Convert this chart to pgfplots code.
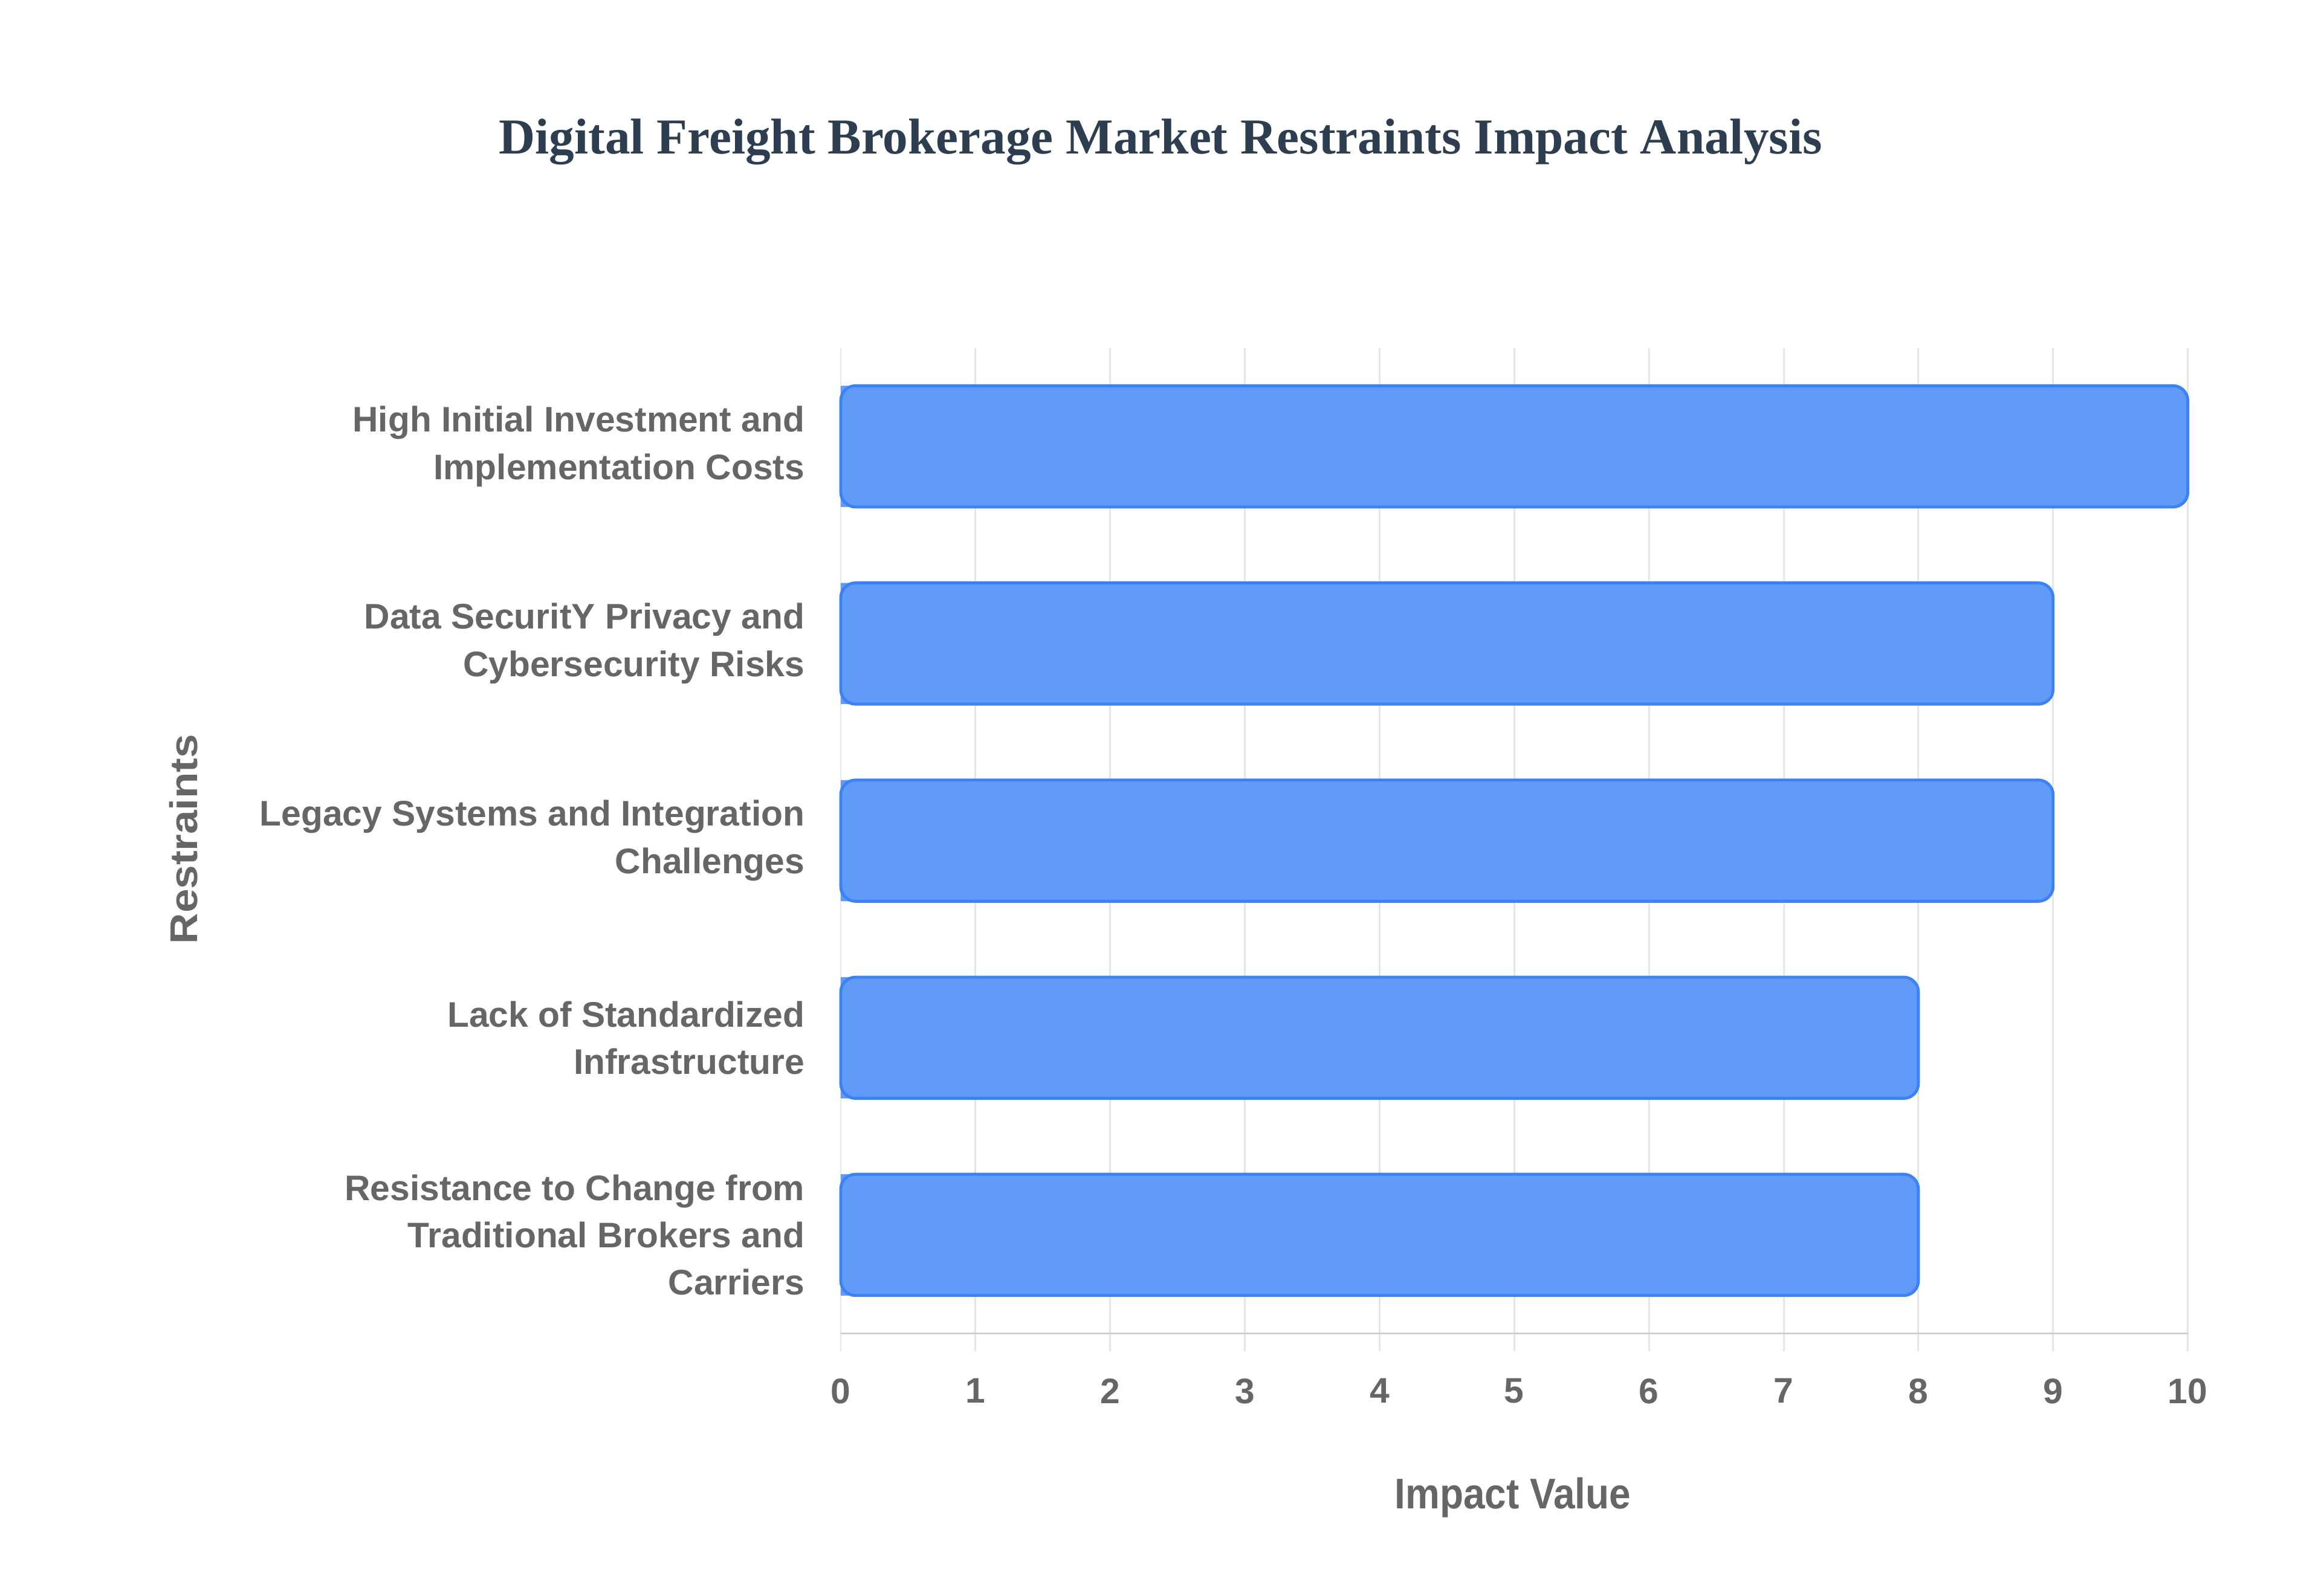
\documentclass[border=0pt]{standalone}
\usepackage{fontspec}
\setmainfont{Liberation Sans}
\newfontfamily\titlefont{Liberation Serif}
\usepackage{pgfplots}
\pgfplotsset{compat=1.18}
\definecolor{barfill}{RGB}{98,155,247}
\definecolor{barline}{RGB}{59,130,246}
\definecolor{lab}{RGB}{102,102,102}
\definecolor{titlec}{RGB}{44,62,80}
\definecolor{gridc}{RGB}{230,230,230}
\begin{document}
\begin{tikzpicture}
\useasboundingbox[fill=white] (0,0) rectangle (784pt,539pt);
\node[anchor=base, text=titlec, inner sep=0pt, font=\titlefont\bfseries\fontsize{17}{20}\selectfont] at (392pt,487pt) {Digital Freight Brokerage Market Restraints Impact Analysis};
\node[text=lab, inner sep=0pt, font=\bfseries\fontsize{14.5}{17}\selectfont] at (511pt,33pt) {\scalebox{0.9}[1]{Impact Value}};
\node[text=lab, inner sep=0pt, rotate=90, font=\bfseries\fontsize{14.5}{17}\selectfont] at (62pt,255.5pt) {\scalebox{1}[0.9]{Restraints}};
\begin{axis}[
  at={(284pt,88.5pt)}, anchor=south west,
  width=455pt, height=333pt, scale only axis,
  xmin=0, xmax=10, ymin=-0.5, ymax=4.5, y dir=reverse,
  xtick={0,1,2,3,4,5,6,7,8,9,10},
  ytick={0,1,2,3,4},
  xtick pos=bottom, ytick pos=left,
  yticklabels={{High Initial Investment and\\Implementation Costs},
               {Data SecuritY Privacy and\\Cybersecurity Risks},
               {Legacy Systems and Integration\\Challenges},
               {Lack of Standardized\\Infrastructure},
               {Resistance to Change from\\Traditional Brokers and\\Carriers}},
  /pgf/number format/assume math mode=true,
  xticklabel style={text=lab, font=\bfseries\fontsize{12}{14}\selectfont, inner sep=0pt, yshift=-9pt},
  yticklabel style={text=lab, font=\bfseries\fontsize{12}{16}\selectfont, align=right, inner sep=0pt, xshift=-6pt},
  axis line style={draw=none},
  xmajorgrids, grid style={gridc, line width=0.6pt},
  tick align=outside, major tick length=6pt,
  x tick style={gridc, line width=0.6pt},
  y tick style={draw=none},
  clip=false,
]
\draw[color=gridc!90!black, line width=0.7pt] (axis cs:0,4.5) -- (axis cs:10,4.5);
\addplot[xbar, bar width=0.615, fill=barfill, draw=none, forget plot, x filter/.expression={x/2}]
  coordinates {(10,0) (9,1) (9,2) (8,3) (8,4)};
\addplot[xbar, bar width=0.615, fill=barfill, draw=barline, line width=1pt, rounded corners=5pt]
  coordinates {(10,0) (9,1) (9,2) (8,3) (8,4)};
\end{axis}
\end{tikzpicture}
\end{document}
